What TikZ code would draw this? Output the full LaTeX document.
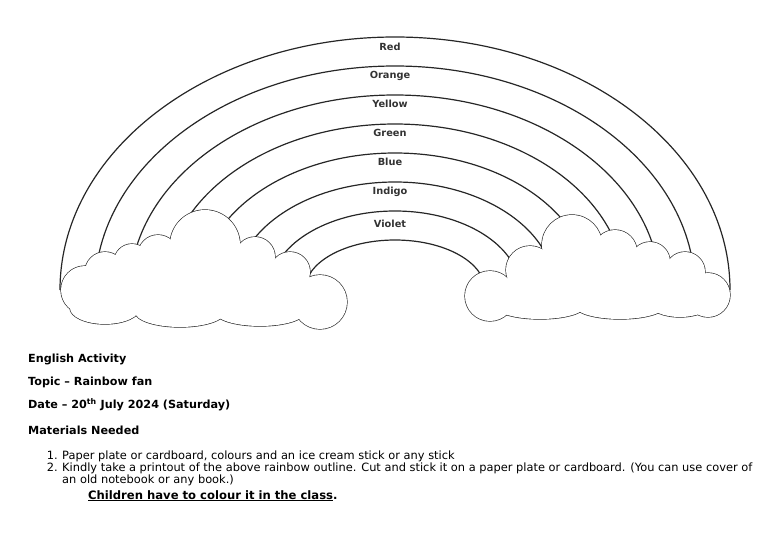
\documentclass[tikz,border=0pt]{standalone}
\usepackage{fontspec}
\setmainfont{DejaVu Sans}
\begin{document}
\begin{tikzpicture}[x=1pt,y=-1pt,
  band/.style={line width=1.2pt,black!85},
  lab/.style={font=\fontsize{9.8}{11}\selectfont\bfseries,text=black!80},
  txt/.style={anchor=base west,inner sep=0,font=\fontsize{11.4}{12}\selectfont},
  hd/.style={txt,font=\fontsize{11.2}{12}\selectfont\bfseries}]
\useasboundingbox (0,0) rectangle (768,543);
% rainbow arcs
\foreach \i in {0,...,7}{
  \pgfmathsetmacro\rx{335-35*\i}
  \pgfmathsetmacro\ry{253-29*\i}
  \draw[band] (395-\rx,290) arc[start angle=180,end angle=360,x radius=\rx,y radius=\ry];
}
% labels
\node[lab] (red) at (390,47) {Red};
\node[lab] (orange) at (390,76) {Orange};
\node[lab] (yellow) at (390,104) {Yellow};
\node[lab] (green) at (390,133) {Green};
\node[lab] (blue) at (390,162) {Blue};
\node[lab] (indigo) at (390,192) {Indigo};
\node[lab] (violet) at (390,224) {Violet};
% clouds: outline then fill
\def\leftcloud#1{
  \path[#1] (85,290) circle[radius=24];
  \path[#1] (105,272) circle[radius=20];
  \path[#1] (132,262) circle[radius=18];
  \path[#1] (158,255) circle[radius=20];
  \path[#1] (205,245) circle[radius=35];
  \path[#1] (255,257) circle[radius=20];
  \path[#1] (290,272) circle[radius=20];
  \path[#1] (320,302) circle[radius=27];
  \path[#1] (105,308) ellipse[x radius=35,y radius=16];
  \path[#1] (180,312) ellipse[x radius=45,y radius=15];
  \path[#1] (260,312) ellipse[x radius=45,y radius=14];
}
\def\rightcloud#1{
  \path[#1] (490,296) circle[radius=25];
  \path[#1] (530,270) circle[radius=24];
  \path[#1] (572,245) circle[radius=30];
  \path[#1] (615,252) circle[radius=22];
  \path[#1] (650,262) circle[radius=20];
  \path[#1] (685,272) circle[radius=20];
  \path[#1] (708,295) circle[radius=22];
  \path[#1] (540,306) ellipse[x radius=45,y radius=13];
  \path[#1] (620,306) ellipse[x radius=45,y radius=13];
  \path[#1] (680,304) ellipse[x radius=30,y radius=13];
}
\leftcloud{draw=black!85,line width=1.3pt}
\leftcloud{fill=white}
\path[fill=white] (85,290) -- (105,272) -- (132,262) -- (158,255) -- (205,245) -- (255,257) -- (290,272) -- (320,302) -- (260,312) -- (180,312) -- (105,308) -- cycle;
\rightcloud{draw=black!85,line width=1.3pt}
\rightcloud{fill=white}
\path[fill=white] (490,296) -- (530,270) -- (572,245) -- (615,252) -- (650,262) -- (685,272) -- (708,295) -- (680,304) -- (620,306) -- (540,306) -- cycle;
% text
\node[hd] (t1) at (28,362) {English Activity};
\node[hd] (t2) at (28,385) {Topic – Rainbow fan};
\node[hd] (t3) at (28,408) {Date – 20\textsuperscript{th} July 2024 (Saturday)};
\node[hd] (t4) at (28,434) {Materials Needed};
\node[txt,anchor=base east] (n1) at (58,459) {1.};
\node[txt] (l1) at (62,459) {Paper plate or cardboard, colours and an ice cream stick or any stick};
\node[txt,anchor=base east] (n2) at (58,471) {2.};
\node[txt] (l2) at (62,471) {Kindly take a printout of the above rainbow outline. Cut and stick it on a paper plate or cardboard. (You can use cover of};
\node[txt] (l3) at (62,483) {an old notebook or any book.)};
\node[txt,font=\fontsize{11.6}{13}\selectfont\bfseries] (l4) at (88,499) {\underline{Children have to colour it in the class}.};
\end{tikzpicture}
\end{document}
